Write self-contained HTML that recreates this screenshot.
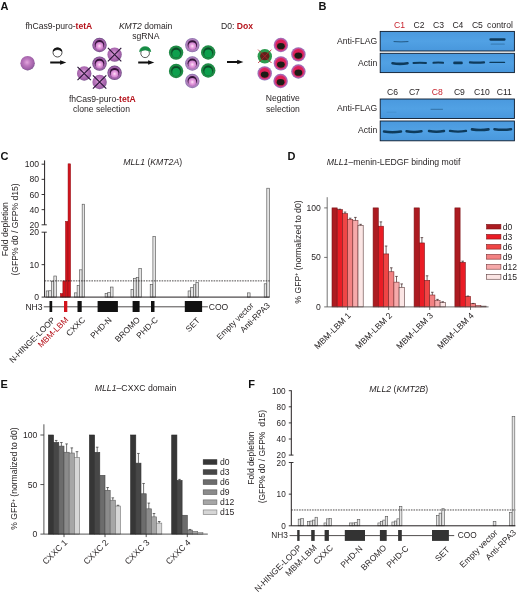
<!DOCTYPE html>
<html lang="en"><head><meta charset="utf-8"><title>Figure</title>
<style>
html,body{margin:0;padding:0;background:#fff;}
svg{display:block;}
text{font-family:"Liberation Sans",sans-serif;}
</style></head><body>
<svg width="520" height="594" viewBox="0 0 520 594">
<defs>
<radialGradient id="gP" cx="0.46" cy="0.44" r="0.58">
 <stop offset="0" stop-color="#e3a6dd"/><stop offset="0.4" stop-color="#bd79bf"/><stop offset="0.78" stop-color="#a262a9"/><stop offset="0.92" stop-color="#8b5a9a"/><stop offset="1" stop-color="#5f4279"/>
</radialGradient>
<radialGradient id="gPi" cx="0.5" cy="0.5" r="0.5">
 <stop offset="0" stop-color="#fde6f8"/><stop offset="0.45" stop-color="#eba4e2"/><stop offset="1" stop-color="#c77ac8"/>
</radialGradient>
<radialGradient id="gPo" cx="0.5" cy="0.5" r="0.5">
 <stop offset="0.55" stop-color="#a466aa"/><stop offset="0.85" stop-color="#9a5fa4"/><stop offset="1" stop-color="#5f4279"/>
</radialGradient>
<radialGradient id="gPo2" cx="0.5" cy="0.5" r="0.5">
 <stop offset="0.55" stop-color="#b284bc"/><stop offset="0.85" stop-color="#ab7eba"/><stop offset="1" stop-color="#7d6aa8"/>
</radialGradient>
<radialGradient id="gG" cx="0.5" cy="0.5" r="0.5">
 <stop offset="0" stop-color="#0aa24e"/><stop offset="0.5" stop-color="#0a9c4a"/><stop offset="0.68" stop-color="#176f38"/><stop offset="0.8" stop-color="#1f8f47"/><stop offset="1" stop-color="#1c8643"/>
</radialGradient>
<radialGradient id="gR" cx="0.5" cy="0.5" r="0.5">
 <stop offset="0" stop-color="#dc1c54"/><stop offset="0.68" stop-color="#dc2259"/><stop offset="0.8" stop-color="#c24c98"/><stop offset="0.92" stop-color="#ac66b2"/><stop offset="1" stop-color="#7f74b4"/>
</radialGradient>
<linearGradient id="gB" x1="0" y1="0" x2="0" y2="1">
 <stop offset="0" stop-color="#4a99de"/><stop offset="0.5" stop-color="#51a1e4"/><stop offset="1" stop-color="#4897dc"/>
</linearGradient>
<filter id="bl" filterUnits="userSpaceOnUse" x="370" y="20" width="150" height="130"><feGaussianBlur stdDeviation="0.6"/></filter>
<filter id="bl3" filterUnits="userSpaceOnUse" x="0" y="20" width="330" height="90"><feGaussianBlur stdDeviation="0.7"/></filter>
<filter id="bl2" filterUnits="userSpaceOnUse" x="0" y="20" width="330" height="90"><feGaussianBlur stdDeviation="0.35"/></filter>
</defs>

<text x="0.4" y="10.2" font-size="11" font-weight="bold" fill="#111">A</text>
<text x="318.6" y="9.8" font-size="11" font-weight="bold" fill="#111">B</text>
<text x="0.6" y="159.9" font-size="11" font-weight="bold" fill="#111">C</text>
<text x="287.4" y="159.9" font-size="11" font-weight="bold" fill="#111">D</text>
<text x="0.6" y="387.8" font-size="11" font-weight="bold" fill="#111">E</text>
<text x="248.3" y="388.1" font-size="11" font-weight="bold" fill="#111">F</text>
<g id="panelA">
<text x="25.4" y="29" font-size="8.6" fill="#231f20">fhCas9-puro-<tspan font-weight="bold" fill="#b5121b">tetA</tspan></text>
<text x="118.9" y="28.7" font-size="8.6" fill="#231f20"><tspan font-style="italic">KMT2</tspan> domain</text>
<text x="145.9" y="39.3" font-size="8.6" text-anchor="middle" fill="#231f20">sgRNA</text>
<text x="221" y="28.7" font-size="8.6" fill="#231f20">D0: <tspan font-weight="bold" fill="#b5121b">Dox</tspan></text>
<text x="68.9" y="101.6" font-size="8.6" fill="#231f20">fhCas9-puro-<tspan font-weight="bold" fill="#b5121b">tetA</tspan></text>
<text x="101.5" y="112.1" font-size="8.6" text-anchor="middle" fill="#231f20">clone selection</text>
<text x="282.8" y="101.4" font-size="8.6" text-anchor="middle" fill="#231f20">Negative</text>
<text x="282.9" y="111.6" font-size="8.6" text-anchor="middle" fill="#231f20">selection</text>
<circle cx="27.6" cy="63.2" r="7.2" fill="url(#gP)"/>
<circle cx="57.5" cy="52.5" r="4.5" fill="#fff" stroke="#222" stroke-width="0.8"/>
<path d="M53.3 50.9A4.5 4.5 0 0 1 61.7 50.9A6 4.2 0 0 0 53.3 50.9Z" fill="#111" stroke="#111" stroke-width="1.1" stroke-linejoin="round"/>
<path d="M50.2 61.4H60.099999999999994V60.2L66.3 62.5L60.099999999999994 64.8V63.6H50.2Z" fill="#111"/>
<circle cx="99.5" cy="45.0" r="7.2" fill="url(#gPo)"/>
<circle cx="99.5" cy="44.8" r="4.7" fill="#35123a" filter="url(#bl2)"/>
<circle cx="99.5" cy="46.0" r="3.9" fill="url(#gPi)" filter="url(#bl2)"/>
<circle cx="114.6" cy="54.6" r="7.2" fill="url(#gP)"/>
<path d="M107.89999999999999 47.9L121.3 61.300000000000004M121.3 47.9L107.89999999999999 61.300000000000004" stroke="#2a1638" stroke-width="1.15" fill="none"/>
<circle cx="99.5" cy="63.6" r="7.2" fill="url(#gPo)"/>
<circle cx="99.5" cy="63.4" r="4.7" fill="#35123a" filter="url(#bl2)"/>
<circle cx="99.5" cy="64.6" r="3.9" fill="url(#gPi)" filter="url(#bl2)"/>
<circle cx="84.2" cy="73.5" r="7.2" fill="url(#gP)"/>
<path d="M77.5 66.8L90.9 80.2M90.9 66.8L77.5 80.2" stroke="#2a1638" stroke-width="1.15" fill="none"/>
<circle cx="114.6" cy="72.8" r="7.2" fill="url(#gPo)"/>
<circle cx="114.6" cy="72.6" r="4.7" fill="#35123a" filter="url(#bl2)"/>
<circle cx="114.6" cy="73.8" r="3.9" fill="url(#gPi)" filter="url(#bl2)"/>
<circle cx="99.6" cy="82.0" r="7.2" fill="url(#gP)"/>
<path d="M92.89999999999999 75.3L106.3 88.7M106.3 75.3L92.89999999999999 88.7" stroke="#2a1638" stroke-width="1.15" fill="none"/>
<circle cx="145.1" cy="53.3" r="4.3" fill="#fff" stroke="#333" stroke-width="0.8"/>
<path d="M139.6 51.6A5.6 5.6 0 0 1 150.7 51.6Q145.1 48.2 139.6 51.6Z" fill="#178c45" stroke="#178c45" stroke-width="0.8"/>
<path d="M138.2 61.4H148.10000000000002V60.2L154.3 62.5L148.10000000000002 64.8V63.6H138.2Z" fill="#111"/>
<circle cx="192.3" cy="45.1" r="7.2" fill="url(#gPo2)"/>
<circle cx="192.3" cy="44.9" r="4.7" fill="#35123a" filter="url(#bl2)"/>
<circle cx="192.3" cy="46.1" r="3.9" fill="url(#gPi)" filter="url(#bl2)"/>
<circle cx="176.1" cy="52.6" r="7.2" fill="url(#gG)"/>
<circle cx="176.1" cy="52.4" r="4.6" fill="#0b4a27" filter="url(#bl2)"/>
<circle cx="176.1" cy="53.6" r="3.9" fill="#0ba04d" filter="url(#bl2)"/>
<circle cx="208.2" cy="52.5" r="7.2" fill="url(#gG)"/>
<circle cx="208.2" cy="52.3" r="4.6" fill="#0b4a27" filter="url(#bl2)"/>
<circle cx="208.2" cy="53.5" r="3.9" fill="#0ba04d" filter="url(#bl2)"/>
<circle cx="192.3" cy="63.5" r="7.2" fill="url(#gPo2)"/>
<circle cx="192.3" cy="63.3" r="4.7" fill="#35123a" filter="url(#bl2)"/>
<circle cx="192.3" cy="64.5" r="3.9" fill="url(#gPi)" filter="url(#bl2)"/>
<circle cx="176.1" cy="71.0" r="7.2" fill="url(#gG)"/>
<circle cx="176.1" cy="70.8" r="4.6" fill="#0b4a27" filter="url(#bl2)"/>
<circle cx="176.1" cy="72.0" r="3.9" fill="#0ba04d" filter="url(#bl2)"/>
<circle cx="208.2" cy="70.5" r="7.2" fill="url(#gG)"/>
<circle cx="208.2" cy="70.3" r="4.6" fill="#0b4a27" filter="url(#bl2)"/>
<circle cx="208.2" cy="71.5" r="3.9" fill="#0ba04d" filter="url(#bl2)"/>
<circle cx="192.3" cy="81.0" r="7.2" fill="url(#gPo2)"/>
<circle cx="192.3" cy="80.8" r="4.7" fill="#35123a" filter="url(#bl2)"/>
<circle cx="192.3" cy="82.0" r="3.9" fill="url(#gPi)" filter="url(#bl2)"/>
<path d="M227.0 60.9H237.20000000000002V59.7L243.4 62.0L237.20000000000002 64.3V63.1H227.0Z" fill="#111"/>
<circle cx="280.9" cy="45.0" r="7.2" fill="url(#gR)"/>
<ellipse cx="280.9" cy="46.2" rx="3.9" ry="3.1" fill="#1d1c14" filter="url(#bl3)"/>
<circle cx="264.8" cy="56.3" r="7.2" fill="#2b9a4e"/>
<ellipse cx="264.8" cy="56.099999999999994" rx="4.8" ry="4.2" fill="#5e241a" filter="url(#bl2)"/>
<path d="M258.1 49.599999999999994L271.5 63.0M271.5 49.599999999999994L258.1 63.0" stroke="#b5202a" stroke-width="0.8" fill="none"/>
<circle cx="298.4" cy="54.4" r="7.2" fill="url(#gR)"/>
<ellipse cx="298.4" cy="55.6" rx="3.9" ry="3.1" fill="#1d1c14" filter="url(#bl3)"/>
<circle cx="280.9" cy="63.4" r="7.2" fill="url(#gR)"/>
<ellipse cx="280.9" cy="64.6" rx="3.9" ry="3.1" fill="#1d1c14" filter="url(#bl3)"/>
<circle cx="264.7" cy="73.4" r="7.2" fill="url(#gR)"/>
<ellipse cx="264.7" cy="74.60000000000001" rx="3.9" ry="3.1" fill="#1d1c14" filter="url(#bl3)"/>
<circle cx="298.4" cy="71.5" r="7.2" fill="url(#gR)"/>
<ellipse cx="298.4" cy="72.7" rx="3.9" ry="3.1" fill="#1d1c14" filter="url(#bl3)"/>
<circle cx="280.6" cy="81.0" r="7.2" fill="url(#gR)"/>
<ellipse cx="280.6" cy="82.2" rx="3.9" ry="3.1" fill="#1d1c14" filter="url(#bl3)"/>
</g>
<g id="panelB">
<rect x="380.2" y="31.4" width="134.2" height="19.6" fill="url(#gB)" stroke="#0c1a2c" stroke-width="0.9"/>
<rect x="380.2" y="53.3" width="134.2" height="19.3" fill="url(#gB)" stroke="#0c1a2c" stroke-width="0.9"/>
<rect x="380.2" y="99.0" width="134.2" height="19.5" fill="url(#gB)" stroke="#0c1a2c" stroke-width="0.9"/>
<rect x="380.2" y="121.0" width="134.2" height="19.8" fill="url(#gB)" stroke="#0c1a2c" stroke-width="0.9"/>
<text x="399.5" y="27.6" font-size="8.6" text-anchor="middle" fill="#c8242f">C1</text>
<text x="419.0" y="27.6" font-size="8.6" text-anchor="middle" fill="#231f20">C2</text>
<text x="438.5" y="27.6" font-size="8.6" text-anchor="middle" fill="#231f20">C3</text>
<text x="457.9" y="27.6" font-size="8.6" text-anchor="middle" fill="#231f20">C4</text>
<text x="477.4" y="27.6" font-size="8.6" text-anchor="middle" fill="#231f20">C5</text>
<text x="500.0" y="27.6" font-size="8.6" text-anchor="middle" fill="#231f20">control</text>
<text x="392.5" y="95.4" font-size="8.6" text-anchor="middle" fill="#231f20">C6</text>
<text x="414.4" y="95.4" font-size="8.6" text-anchor="middle" fill="#231f20">C7</text>
<text x="437.2" y="95.4" font-size="8.6" text-anchor="middle" fill="#c8242f">C8</text>
<text x="459.4" y="95.4" font-size="8.6" text-anchor="middle" fill="#231f20">C9</text>
<text x="482.0" y="95.4" font-size="8.6" text-anchor="middle" fill="#231f20">C10</text>
<text x="504.3" y="95.4" font-size="8.6" text-anchor="middle" fill="#231f20">C11</text>
<text x="377.2" y="44.2" font-size="8.6" text-anchor="end" fill="#231f20">Anti-FLAG</text>
<text x="377.2" y="65.8" font-size="8.6" text-anchor="end" fill="#231f20">Actin</text>
<text x="377.2" y="111.0" font-size="8.6" text-anchor="end" fill="#231f20">Anti-FLAG</text>
<text x="377.2" y="133.2" font-size="8.6" text-anchor="end" fill="#231f20">Actin</text>
<path d="M394 41.6Q401.0 42.2 408 41.6" stroke="#113a5c" stroke-width="1.0" stroke-linecap="round" fill="none" opacity="0.7" filter="url(#bl)"/>
<path d="M490.5 39.5Q497.5 39.5 504.5 39.5" stroke="#113a5c" stroke-width="2.3" stroke-linecap="round" fill="none" opacity="1.0" filter="url(#bl)"/>
<path d="M491.5 44.2Q497.75 44.2 504 44.2" stroke="#113a5c" stroke-width="1.8" stroke-linecap="round" fill="none" opacity="0.22" filter="url(#bl)"/>
<path d="M392.5 63.3Q400.0 64.5 407.5 63.3" stroke="#113a5c" stroke-width="2.6" stroke-linecap="round" fill="none" opacity="1.0" filter="url(#bl)"/>
<path d="M413.5 63.0Q419.75 62.5 426 63.0" stroke="#113a5c" stroke-width="2.0" stroke-linecap="round" fill="none" opacity="1.0" filter="url(#bl)"/>
<path d="M433.5 62.8Q438.25 62.3 443 62.8" stroke="#113a5c" stroke-width="2.1" stroke-linecap="round" fill="none" opacity="1.0" filter="url(#bl)"/>
<path d="M454.5 62.9Q458.0 62.9 461.5 62.9" stroke="#113a5c" stroke-width="2.7" stroke-linecap="round" fill="none" opacity="1.0" filter="url(#bl)"/>
<path d="M470 62.4Q477.0 62.9 484 62.4" stroke="#113a5c" stroke-width="2.3" stroke-linecap="round" fill="none" opacity="1.0" filter="url(#bl)"/>
<path d="M490 62.4Q497.25 62.4 504.5 62.4" stroke="#113a5c" stroke-width="1.4" stroke-linecap="round" fill="none" opacity="1.0" filter="url(#bl)"/>
<path d="M431 109.3Q436.75 109.3 442.5 109.3" stroke="#113a5c" stroke-width="1.0" stroke-linecap="round" fill="none" opacity="0.45" filter="url(#bl)"/>
<path d="M387 112.2Q391.5 112.2 396 112.2" stroke="#113a5c" stroke-width="1.0" stroke-linecap="round" fill="none" opacity="0.12" filter="url(#bl)"/>
<path d="M384 131.5Q392.5 132.9 401 131.5" stroke="#113a5c" stroke-width="2.5" stroke-linecap="round" fill="none" opacity="1.0" filter="url(#bl)"/>
<path d="M406.5 131.3Q414.0 132.70000000000002 421.5 131.3" stroke="#113a5c" stroke-width="2.4" stroke-linecap="round" fill="none" opacity="1.0" filter="url(#bl)"/>
<path d="M429 131.1Q436.5 132.5 444 131.1" stroke="#113a5c" stroke-width="2.5" stroke-linecap="round" fill="none" opacity="1.0" filter="url(#bl)"/>
<path d="M450 130.9Q458.0 132.3 466 130.9" stroke="#113a5c" stroke-width="2.4" stroke-linecap="round" fill="none" opacity="1.0" filter="url(#bl)"/>
<path d="M472 129.4Q480.25 130.6 488.5 129.4" stroke="#113a5c" stroke-width="2.6" stroke-linecap="round" fill="none" opacity="1.0" filter="url(#bl)"/>
<path d="M494.5 129.2Q502.75 130.39999999999998 511 129.2" stroke="#113a5c" stroke-width="2.6" stroke-linecap="round" fill="none" opacity="1.0" filter="url(#bl)"/>
</g>
<g id="panelC">
<text x="152.7" y="164.8" font-size="8.7" text-anchor="middle" fill="#231f20"><tspan font-style="italic">MLL1</tspan> (<tspan font-style="italic">KMT2A</tspan>)</text>
<rect x="46.20" y="290.93" width="2.55" height="6.17" fill="#e4e4e4" stroke="#4d4d4d" stroke-width="0.6"/>
<rect x="48.75" y="290.77" width="2.55" height="6.33" fill="#e4e4e4" stroke="#4d4d4d" stroke-width="0.6"/>
<rect x="51.30" y="281.20" width="2.55" height="15.90" fill="#e4e4e4" stroke="#4d4d4d" stroke-width="0.6"/>
<rect x="53.85" y="276.01" width="2.55" height="21.09" fill="#e4e4e4" stroke="#4d4d4d" stroke-width="0.6"/>
<rect x="60.30" y="293.53" width="2.58" height="3.57" fill="#d2131c" stroke="#8e1116" stroke-width="0.5"/>
<rect x="62.88" y="280.88" width="2.58" height="16.23" fill="#d2131c" stroke="#8e1116" stroke-width="0.5"/>
<rect x="65.46" y="221.32" width="2.58" height="75.78" fill="#d2131c" stroke="#8e1116" stroke-width="0.5"/>
<rect x="68.04" y="163.82" width="2.58" height="133.28" fill="#d2131c" stroke="#8e1116" stroke-width="0.5"/>
<rect x="74.60" y="292.88" width="2.52" height="4.22" fill="#e4e4e4" stroke="#4d4d4d" stroke-width="0.6"/>
<rect x="77.12" y="285.42" width="2.52" height="11.68" fill="#e4e4e4" stroke="#4d4d4d" stroke-width="0.6"/>
<rect x="79.64" y="269.84" width="2.52" height="27.26" fill="#e4e4e4" stroke="#4d4d4d" stroke-width="0.6"/>
<rect x="82.16" y="204.20" width="2.52" height="92.90" fill="#e4e4e4" stroke="#4d4d4d" stroke-width="0.6"/>
<rect x="105.10" y="293.53" width="2.65" height="3.57" fill="#e4e4e4" stroke="#4d4d4d" stroke-width="0.6"/>
<rect x="107.75" y="292.56" width="2.65" height="4.54" fill="#e4e4e4" stroke="#4d4d4d" stroke-width="0.6"/>
<rect x="110.40" y="287.04" width="2.65" height="10.06" fill="#e4e4e4" stroke="#4d4d4d" stroke-width="0.6"/>
<rect x="131.00" y="289.31" width="2.60" height="7.79" fill="#e4e4e4" stroke="#4d4d4d" stroke-width="0.6"/>
<rect x="133.60" y="278.28" width="2.60" height="18.82" fill="#e4e4e4" stroke="#4d4d4d" stroke-width="0.6"/>
<rect x="136.20" y="277.63" width="2.60" height="19.47" fill="#e4e4e4" stroke="#4d4d4d" stroke-width="0.6"/>
<rect x="138.80" y="268.54" width="2.60" height="28.56" fill="#e4e4e4" stroke="#4d4d4d" stroke-width="0.6"/>
<rect x="150.20" y="284.44" width="2.70" height="12.66" fill="#e4e4e4" stroke="#4d4d4d" stroke-width="0.6"/>
<rect x="152.90" y="236.42" width="2.70" height="60.68" fill="#e4e4e4" stroke="#4d4d4d" stroke-width="0.6"/>
<rect x="188.10" y="290.93" width="2.60" height="6.17" fill="#e4e4e4" stroke="#4d4d4d" stroke-width="0.6"/>
<rect x="190.70" y="287.37" width="2.60" height="9.74" fill="#e4e4e4" stroke="#4d4d4d" stroke-width="0.6"/>
<rect x="193.30" y="284.77" width="2.60" height="12.33" fill="#e4e4e4" stroke="#4d4d4d" stroke-width="0.6"/>
<rect x="195.90" y="282.50" width="2.60" height="14.60" fill="#e4e4e4" stroke="#4d4d4d" stroke-width="0.6"/>
<rect x="247.30" y="292.88" width="2.80" height="4.22" fill="#e4e4e4" stroke="#4d4d4d" stroke-width="0.6"/>
<rect x="264.20" y="283.80" width="2.60" height="13.30" fill="#e4e4e4" stroke="#4d4d4d" stroke-width="0.6"/>
<rect x="266.80" y="188.21" width="2.60" height="108.89" fill="#e4e4e4" stroke="#4d4d4d" stroke-width="0.6"/>
<path d="M44.6 280.88H269.6" stroke="#231f20" stroke-width="0.8" stroke-dasharray="1.6 1" fill="none"/>
<path d="M44.6 160.39999999999998V224.8M44.6 232.2V297.1H269.6" stroke="#231f20" stroke-width="1" fill="none"/>
<path d="M41.6 164.20H44.6" stroke="#231f20" stroke-width="0.9"/>
<text x="39.0" y="167.2" font-size="8.6" text-anchor="end" fill="#231f20">100</text>
<path d="M41.6 179.35H44.6" stroke="#231f20" stroke-width="0.9"/>
<text x="39.0" y="182.35" font-size="8.6" text-anchor="end" fill="#231f20">80</text>
<path d="M41.6 194.50H44.6" stroke="#231f20" stroke-width="0.9"/>
<text x="39.0" y="197.5" font-size="8.6" text-anchor="end" fill="#231f20">60</text>
<path d="M41.6 209.65H44.6" stroke="#231f20" stroke-width="0.9"/>
<text x="39.0" y="212.65" font-size="8.6" text-anchor="end" fill="#231f20">40</text>
<path d="M41.6 224.80H46.800000000000004" stroke="#231f20" stroke-width="0.9"/>
<text x="39.0" y="227.8" font-size="8.6" text-anchor="end" fill="#231f20">20</text>
<path d="M41.6 232.20H46.800000000000004" stroke="#231f20" stroke-width="0.9"/>
<text x="39.0" y="235.2" font-size="8.6" text-anchor="end" fill="#231f20">20</text>
<path d="M41.6 264.65H44.6" stroke="#231f20" stroke-width="0.9"/>
<text x="39.0" y="267.65" font-size="8.6" text-anchor="end" fill="#231f20">10</text>
<path d="M41.6 297.10H44.6" stroke="#231f20" stroke-width="0.9"/>
<text x="39.0" y="300.1" font-size="8.6" text-anchor="end" fill="#231f20">0</text>
<text x="42.6" y="309.6" font-size="8.6" text-anchor="end" fill="#231f20">NH3</text>
<path d="M43.8 306.8H207.9" stroke="#231f20" stroke-width="0.8"/>
<rect x="49.5" y="301.0" width="2.70" height="11.00" fill="#111"/>
<rect x="64.0" y="301.0" width="3.30" height="11.00" fill="#d2131c"/>
<rect x="77.5" y="301.0" width="4.20" height="11.00" fill="#111"/>
<rect x="97.6" y="301.0" width="20.30" height="11.00" fill="#111"/>
<rect x="132.6" y="301.0" width="7.00" height="11.00" fill="#111"/>
<rect x="151.0" y="301.0" width="3.50" height="11.00" fill="#111"/>
<rect x="184.8" y="301.0" width="17.30" height="11.00" fill="#111"/>
<text x="208.7" y="309.6" font-size="8.6" fill="#231f20">COO</text>
<text transform="translate(55.7 320.5) rotate(-45)" font-size="8.3" text-anchor="end" fill="#231f20">N-HINGE-LOOP</text>
<text transform="translate(68.9 320.4) rotate(-45)" font-size="8.3" text-anchor="end" fill="#b5121b">MBM-LBM</text>
<text transform="translate(85.7 320.4) rotate(-45)" font-size="8.3" text-anchor="end" fill="#231f20">CXXC</text>
<text transform="translate(112.3 320.4) rotate(-45)" font-size="8.3" text-anchor="end" fill="#231f20">PHD-N</text>
<text transform="translate(140.5 320.4) rotate(-45)" font-size="8.3" text-anchor="end" fill="#231f20">BROMO</text>
<text transform="translate(158.4 320.4) rotate(-45)" font-size="8.3" text-anchor="end" fill="#231f20">PHD-C</text>
<text transform="translate(200.4 321.0) rotate(-45)" font-size="8.3" text-anchor="end" fill="#231f20">SET</text>
<text transform="translate(254.2 306.0) rotate(-45)" font-size="8.3" text-anchor="end" fill="#231f20">Empty vector</text>
<text transform="translate(270.5 306.0) rotate(-45)" font-size="8.3" text-anchor="end" fill="#231f20">Anti-RPA3</text>
<text transform="translate(7.9 229.2) rotate(-90)" font-size="8.6" text-anchor="middle" fill="#231f20">Fold depletion</text>
<text transform="translate(18.0 229.4) rotate(-90)" font-size="8.6" text-anchor="middle" fill="#231f20">(GFP% d0 / GFP% d15)</text>
</g>
<g id="panelF">
<text x="398.8" y="391.8" font-size="8.7" text-anchor="middle" fill="#231f20"><tspan font-style="italic">MLL2</tspan> (<tspan font-style="italic">KMT2B</tspan>)</text>
<rect x="298.20" y="519.15" width="2.60" height="6.65" fill="#e4e4e4" stroke="#555" stroke-width="0.6"/>
<rect x="300.80" y="518.52" width="2.60" height="7.28" fill="#e4e4e4" stroke="#555" stroke-width="0.6"/>
<rect x="307.40" y="521.69" width="2.55" height="4.11" fill="#e4e4e4" stroke="#555" stroke-width="0.6"/>
<rect x="309.95" y="521.05" width="2.55" height="4.75" fill="#e4e4e4" stroke="#555" stroke-width="0.6"/>
<rect x="312.50" y="520.10" width="2.55" height="5.70" fill="#e4e4e4" stroke="#555" stroke-width="0.6"/>
<rect x="315.05" y="517.25" width="2.55" height="8.55" fill="#e4e4e4" stroke="#555" stroke-width="0.6"/>
<rect x="324.00" y="522.95" width="2.55" height="2.85" fill="#e4e4e4" stroke="#555" stroke-width="0.6"/>
<rect x="326.55" y="518.84" width="2.55" height="6.96" fill="#e4e4e4" stroke="#555" stroke-width="0.6"/>
<rect x="329.10" y="518.52" width="2.55" height="7.28" fill="#e4e4e4" stroke="#555" stroke-width="0.6"/>
<rect x="349.60" y="522.95" width="2.55" height="2.85" fill="#e4e4e4" stroke="#555" stroke-width="0.6"/>
<rect x="352.15" y="522.95" width="2.55" height="2.85" fill="#e4e4e4" stroke="#555" stroke-width="0.6"/>
<rect x="354.70" y="522.63" width="2.55" height="3.16" fill="#e4e4e4" stroke="#555" stroke-width="0.6"/>
<rect x="357.25" y="519.47" width="2.55" height="6.33" fill="#e4e4e4" stroke="#555" stroke-width="0.6"/>
<rect x="377.90" y="522.95" width="2.45" height="2.85" fill="#e4e4e4" stroke="#555" stroke-width="0.6"/>
<rect x="380.35" y="521.69" width="2.45" height="4.11" fill="#e4e4e4" stroke="#555" stroke-width="0.6"/>
<rect x="382.80" y="520.10" width="2.45" height="5.70" fill="#e4e4e4" stroke="#555" stroke-width="0.6"/>
<rect x="385.25" y="516.30" width="2.45" height="9.50" fill="#e4e4e4" stroke="#555" stroke-width="0.6"/>
<rect x="391.90" y="522.00" width="2.50" height="3.80" fill="#e4e4e4" stroke="#555" stroke-width="0.6"/>
<rect x="394.40" y="521.05" width="2.50" height="4.75" fill="#e4e4e4" stroke="#555" stroke-width="0.6"/>
<rect x="396.90" y="518.84" width="2.50" height="6.96" fill="#e4e4e4" stroke="#555" stroke-width="0.6"/>
<rect x="399.40" y="506.49" width="2.50" height="19.31" fill="#e4e4e4" stroke="#555" stroke-width="0.6"/>
<rect x="436.40" y="515.36" width="2.70" height="10.44" fill="#e4e4e4" stroke="#555" stroke-width="0.6"/>
<rect x="439.10" y="513.14" width="2.70" height="12.66" fill="#e4e4e4" stroke="#555" stroke-width="0.6"/>
<rect x="441.80" y="508.71" width="2.70" height="17.09" fill="#e4e4e4" stroke="#555" stroke-width="0.6"/>
<rect x="493.20" y="521.37" width="2.70" height="4.43" fill="#e4e4e4" stroke="#555" stroke-width="0.6"/>
<rect x="509.50" y="512.51" width="2.65" height="13.29" fill="#e4e4e4" stroke="#555" stroke-width="0.6"/>
<rect x="512.15" y="416.46" width="2.65" height="109.34" fill="#e4e4e4" stroke="#555" stroke-width="0.6"/>
<path d="M291.3 509.97H515.4" stroke="#231f20" stroke-width="0.8" stroke-dasharray="1.6 1" fill="none"/>
<path d="M291.3 390.3V455.1M291.3 462.5V525.8H515.4" stroke="#231f20" stroke-width="1" fill="none"/>
<path d="M288.8 390.70H291.3" stroke="#231f20" stroke-width="0.9"/>
<text x="285.7" y="393.7" font-size="8.2" text-anchor="end" fill="#231f20">100</text>
<path d="M288.8 406.80H291.3" stroke="#231f20" stroke-width="0.9"/>
<text x="285.7" y="409.8" font-size="8.2" text-anchor="end" fill="#231f20">80</text>
<path d="M288.8 422.90H291.3" stroke="#231f20" stroke-width="0.9"/>
<text x="285.7" y="425.9" font-size="8.2" text-anchor="end" fill="#231f20">60</text>
<path d="M288.8 439.00H291.3" stroke="#231f20" stroke-width="0.9"/>
<text x="285.7" y="442.0" font-size="8.2" text-anchor="end" fill="#231f20">40</text>
<path d="M288.8 455.10H293.5" stroke="#231f20" stroke-width="0.9"/>
<text x="285.7" y="458.1" font-size="8.2" text-anchor="end" fill="#231f20">20</text>
<path d="M288.8 462.50H293.5" stroke="#231f20" stroke-width="0.9"/>
<text x="285.7" y="465.5" font-size="8.2" text-anchor="end" fill="#231f20">20</text>
<path d="M288.8 494.15H291.3" stroke="#231f20" stroke-width="0.9"/>
<text x="285.7" y="497.15" font-size="8.2" text-anchor="end" fill="#231f20">10</text>
<path d="M288.8 525.80H291.3" stroke="#231f20" stroke-width="0.9"/>
<text x="285.7" y="528.8" font-size="8.2" text-anchor="end" fill="#231f20">0</text>
<text x="287.8" y="538.4" font-size="8.3" text-anchor="end" fill="#231f20">NH3</text>
<path d="M289.6 535.6H454.2" stroke="#231f20" stroke-width="0.8"/>
<rect x="297.2" y="530.0" width="2.40" height="10.90" fill="#333"/>
<rect x="311.2" y="530.0" width="3.50" height="10.90" fill="#333"/>
<rect x="324.6" y="530.0" width="4.30" height="10.90" fill="#333"/>
<rect x="344.8" y="530.0" width="20.20" height="10.90" fill="#333"/>
<rect x="379.9" y="530.0" width="6.80" height="10.90" fill="#333"/>
<rect x="398.1" y="530.0" width="3.70" height="10.90" fill="#333"/>
<rect x="432.0" y="530.0" width="16.90" height="10.90" fill="#333"/>
<text x="457.8" y="538.4" font-size="8.3" fill="#231f20">COO</text>
<text transform="translate(302.0 548.3) rotate(-45)" font-size="8.5" text-anchor="end" fill="#231f20">N-HINGE-LOOP</text>
<text transform="translate(317.2 548.3) rotate(-45)" font-size="8.5" text-anchor="end" fill="#231f20">MBM-LBM</text>
<text transform="translate(333.6 548.3) rotate(-45)" font-size="8.5" text-anchor="end" fill="#231f20">CXXC</text>
<text transform="translate(363.0 549.1) rotate(-45)" font-size="8.5" text-anchor="end" fill="#231f20">PHD-N</text>
<text transform="translate(387.0 548.2) rotate(-45)" font-size="8.5" text-anchor="end" fill="#231f20">BROMO</text>
<text transform="translate(409.1 549.1) rotate(-45)" font-size="8.5" text-anchor="end" fill="#231f20">PHD-C</text>
<text transform="translate(450.1 550.4) rotate(-45)" font-size="8.5" text-anchor="end" fill="#231f20">SET</text>
<text transform="translate(498.2 533.2) rotate(-45)" font-size="8.5" text-anchor="end" fill="#231f20">Empty vector</text>
<text transform="translate(516.5 533.2) rotate(-45)" font-size="8.5" text-anchor="end" fill="#231f20">Anti-RPA3</text>
<text transform="translate(253.9 458.1) rotate(-90)" font-size="8.5" text-anchor="middle" fill="#231f20">Fold depletion</text>
<text transform="translate(264.7 456.6) rotate(-90)" font-size="8.5" text-anchor="middle" fill="#231f20">(GFP% d0 / GFP% &#160;d15)</text>
</g>
<g id="panelD">
<rect x="332.00" y="207.90" width="5.20" height="99.00" fill="#ac1b21" stroke="#7a1216" stroke-width="0.6"/>
<rect x="337.20" y="209.68" width="5.20" height="97.22" fill="#ea1c25" stroke="#7d1216" stroke-width="0.6"/>
<path d="M339.80 209.68V209.19M338.50 209.19H341.10" stroke="#3a2020" stroke-width="0.7" fill="none"/>
<rect x="342.40" y="213.64" width="5.20" height="93.26" fill="#ef4545" stroke="#7d1a1c" stroke-width="0.6"/>
<path d="M345.00 213.64V212.06M343.70 212.06H346.30" stroke="#3a2020" stroke-width="0.7" fill="none"/>
<rect x="347.60" y="219.38" width="5.20" height="87.52" fill="#f38283" stroke="#7d2628" stroke-width="0.6"/>
<path d="M350.20 219.38V218.20M348.90 218.20H351.50" stroke="#3a2020" stroke-width="0.7" fill="none"/>
<rect x="352.80" y="220.57" width="5.20" height="86.33" fill="#f6a9aa" stroke="#7a3436" stroke-width="0.6"/>
<path d="M355.40 220.57V217.40M354.10 217.40H356.70" stroke="#3a2020" stroke-width="0.7" fill="none"/>
<rect x="358.00" y="225.32" width="5.20" height="81.58" fill="#fbe5e4" stroke="#5e3c3c" stroke-width="0.6"/>
<path d="M360.60 225.32V224.33M359.30 224.33H361.90" stroke="#3a2020" stroke-width="0.7" fill="none"/>
<rect x="373.10" y="207.90" width="5.20" height="99.00" fill="#ac1b21" stroke="#7a1216" stroke-width="0.6"/>
<rect x="378.30" y="226.21" width="5.20" height="80.69" fill="#ea1c25" stroke="#7d1216" stroke-width="0.6"/>
<path d="M380.90 226.21V221.86M379.60 221.86H382.20" stroke="#3a2020" stroke-width="0.7" fill="none"/>
<rect x="383.50" y="253.94" width="5.20" height="52.96" fill="#ef4545" stroke="#7d1a1c" stroke-width="0.6"/>
<path d="M386.10 253.94V246.02M384.80 246.02H387.40" stroke="#3a2020" stroke-width="0.7" fill="none"/>
<rect x="388.70" y="271.75" width="5.20" height="35.14" fill="#f38283" stroke="#7d2628" stroke-width="0.6"/>
<path d="M391.30 271.75V267.80M390.00 267.80H392.60" stroke="#3a2020" stroke-width="0.7" fill="none"/>
<rect x="393.90" y="282.15" width="5.20" height="24.75" fill="#f6a9aa" stroke="#7a3436" stroke-width="0.6"/>
<path d="M396.50 282.15V276.41M395.20 276.41H397.80" stroke="#3a2020" stroke-width="0.7" fill="none"/>
<rect x="399.10" y="287.30" width="5.20" height="19.60" fill="#fbe5e4" stroke="#5e3c3c" stroke-width="0.6"/>
<path d="M401.70 287.30V283.93M400.40 283.93H403.00" stroke="#3a2020" stroke-width="0.7" fill="none"/>
<rect x="414.10" y="207.90" width="5.20" height="99.00" fill="#ac1b21" stroke="#7a1216" stroke-width="0.6"/>
<rect x="419.30" y="242.95" width="5.20" height="63.95" fill="#ea1c25" stroke="#7d1216" stroke-width="0.6"/>
<path d="M421.90 242.95V237.60M420.60 237.60H423.20" stroke="#3a2020" stroke-width="0.7" fill="none"/>
<rect x="424.50" y="280.37" width="5.20" height="26.53" fill="#ef4545" stroke="#7d1a1c" stroke-width="0.6"/>
<path d="M427.10 280.37V275.81M425.80 275.81H428.40" stroke="#3a2020" stroke-width="0.7" fill="none"/>
<rect x="429.70" y="295.02" width="5.20" height="11.88" fill="#f38283" stroke="#7d2628" stroke-width="0.6"/>
<path d="M432.30 295.02V292.25M431.00 292.25H433.60" stroke="#3a2020" stroke-width="0.7" fill="none"/>
<rect x="434.90" y="300.56" width="5.20" height="6.34" fill="#f6a9aa" stroke="#7a3436" stroke-width="0.6"/>
<path d="M437.50 300.56V299.38M436.20 299.38H438.80" stroke="#3a2020" stroke-width="0.7" fill="none"/>
<rect x="440.10" y="302.54" width="5.20" height="4.36" fill="#fbe5e4" stroke="#5e3c3c" stroke-width="0.6"/>
<path d="M442.70 302.54V301.75M441.40 301.75H444.00" stroke="#3a2020" stroke-width="0.7" fill="none"/>
<rect x="454.90" y="207.90" width="5.20" height="99.00" fill="#ac1b21" stroke="#7a1216" stroke-width="0.6"/>
<rect x="460.10" y="262.35" width="5.20" height="44.55" fill="#ea1c25" stroke="#7d1216" stroke-width="0.6"/>
<path d="M462.70 262.35V261.16M461.40 261.16H464.00" stroke="#3a2020" stroke-width="0.7" fill="none"/>
<rect x="465.30" y="296.41" width="5.20" height="10.49" fill="#ef4545" stroke="#7d1a1c" stroke-width="0.6"/>
<path d="M467.90 296.41V296.01M466.60 296.01H469.20" stroke="#3a2020" stroke-width="0.7" fill="none"/>
<rect x="470.50" y="303.73" width="5.20" height="3.17" fill="#f38283" stroke="#7d2628" stroke-width="0.6"/>
<path d="M473.10 303.73V303.43M471.80 303.43H474.40" stroke="#3a2020" stroke-width="0.7" fill="none"/>
<rect x="475.70" y="305.32" width="5.20" height="1.58" fill="#f6a9aa" stroke="#7a3436" stroke-width="0.6"/>
<rect x="480.90" y="306.11" width="5.20" height="0.79" fill="#fbe5e4" stroke="#5e3c3c" stroke-width="0.6"/>
<path d="M327.2 197.2V306.9H488.6" stroke="#505050" stroke-width="0.8" fill="none"/>
<path d="M324.2 207.90H327.2" stroke="#505050" stroke-width="0.8"/>
<text x="320.9" y="210.9" font-size="8.6" text-anchor="end" fill="#231f20">100</text>
<path d="M324.2 257.40H327.2" stroke="#505050" stroke-width="0.8"/>
<text x="320.9" y="260.4" font-size="8.6" text-anchor="end" fill="#231f20">50</text>
<path d="M324.2 306.90H327.2" stroke="#505050" stroke-width="0.8"/>
<text x="320.9" y="309.9" font-size="8.6" text-anchor="end" fill="#231f20">0</text>
<path d="M347.60 306.9V309.9" stroke="#505050" stroke-width="0.8"/>
<text transform="translate(351.5 316.0) rotate(-45)" font-size="8.6" text-anchor="end" fill="#231f20">MBM-LBM 1</text>
<path d="M388.70 306.9V309.9" stroke="#505050" stroke-width="0.8"/>
<text transform="translate(392.6 316.0) rotate(-45)" font-size="8.6" text-anchor="end" fill="#231f20">MBM-LBM 2</text>
<path d="M429.70 306.9V309.9" stroke="#505050" stroke-width="0.8"/>
<text transform="translate(433.6 316.0) rotate(-45)" font-size="8.6" text-anchor="end" fill="#231f20">MBM-LBM 3</text>
<path d="M470.50 306.9V309.9" stroke="#505050" stroke-width="0.8"/>
<text transform="translate(474.4 316.0) rotate(-45)" font-size="8.6" text-anchor="end" fill="#231f20">MBM-LBM 4</text>
<text x="326.7" y="164.8" font-size="8.7" fill="#231f20"><tspan font-style="italic">MLL1</tspan>–menin-LEDGF binding motif</text>
<text transform="translate(300.7 252.0) rotate(-90)" font-size="8.7" text-anchor="middle" fill="#231f20">% GFP<tspan font-size="5" dy="-2.6">+</tspan><tspan dy="2.6"> (normalized to d0)</tspan></text>
<rect x="486.6" y="224.40" width="14.3" height="4.6" fill="#ac1b21" stroke="#7a1216" stroke-width="0.6"/>
<text x="502.8" y="229.7" font-size="8.6" fill="#231f20">d0</text>
<rect x="486.6" y="234.45" width="14.3" height="4.6" fill="#ea1c25" stroke="#7d1216" stroke-width="0.6"/>
<text x="502.8" y="239.75" font-size="8.6" fill="#231f20">d3</text>
<rect x="486.6" y="244.50" width="14.3" height="4.6" fill="#ef4545" stroke="#7d1a1c" stroke-width="0.6"/>
<text x="502.8" y="249.8" font-size="8.6" fill="#231f20">d6</text>
<rect x="486.6" y="254.55" width="14.3" height="4.6" fill="#f38283" stroke="#7d2628" stroke-width="0.6"/>
<text x="502.8" y="259.85" font-size="8.6" fill="#231f20">d9</text>
<rect x="486.6" y="264.60" width="14.3" height="4.6" fill="#f6a9aa" stroke="#7a3436" stroke-width="0.6"/>
<text x="502.8" y="269.9" font-size="8.6" fill="#231f20">d12</text>
<rect x="486.6" y="274.65" width="14.3" height="4.6" fill="#fbe5e4" stroke="#5e3c3c" stroke-width="0.6"/>
<text x="502.8" y="279.95" font-size="8.6" fill="#231f20">d15</text>
</g>
<g id="panelE">
<rect x="48.40" y="435.00" width="5.20" height="99.10" fill="#363636" stroke="#2a2a2a" stroke-width="0.6"/>
<rect x="53.60" y="442.43" width="5.20" height="91.67" fill="#474747" stroke="#333" stroke-width="0.6"/>
<path d="M56.20 442.43V440.45M54.90 440.45H57.50" stroke="#333" stroke-width="0.7" fill="none"/>
<rect x="58.80" y="446.10" width="5.20" height="88.00" fill="#6c6c6c" stroke="#444" stroke-width="0.6"/>
<path d="M61.40 446.10V442.53M60.10 442.53H62.70" stroke="#333" stroke-width="0.7" fill="none"/>
<rect x="64.00" y="452.24" width="5.20" height="81.86" fill="#8b8b8b" stroke="#555" stroke-width="0.6"/>
<path d="M66.60 452.24V443.92M65.30 443.92H67.90" stroke="#333" stroke-width="0.7" fill="none"/>
<rect x="69.20" y="453.04" width="5.20" height="81.06" fill="#a6a6a6" stroke="#666" stroke-width="0.6"/>
<path d="M71.80 453.04V447.88M70.50 447.88H73.10" stroke="#333" stroke-width="0.7" fill="none"/>
<rect x="74.40" y="457.40" width="5.20" height="76.70" fill="#d6d6d6" stroke="#777" stroke-width="0.6"/>
<path d="M77.00 457.40V451.65M75.70 451.65H78.30" stroke="#333" stroke-width="0.7" fill="none"/>
<rect x="89.40" y="435.00" width="5.20" height="99.10" fill="#363636" stroke="#2a2a2a" stroke-width="0.6"/>
<rect x="94.60" y="452.34" width="5.20" height="81.76" fill="#474747" stroke="#333" stroke-width="0.6"/>
<path d="M97.20 452.34V447.19M95.90 447.19H98.50" stroke="#333" stroke-width="0.7" fill="none"/>
<rect x="99.80" y="475.33" width="5.20" height="58.77" fill="#6c6c6c" stroke="#444" stroke-width="0.6"/>
<rect x="105.00" y="490.30" width="5.20" height="43.80" fill="#8b8b8b" stroke="#555" stroke-width="0.6"/>
<path d="M107.60 490.30V487.52M106.30 487.52H108.90" stroke="#333" stroke-width="0.7" fill="none"/>
<rect x="110.20" y="500.21" width="5.20" height="33.89" fill="#a6a6a6" stroke="#666" stroke-width="0.6"/>
<path d="M112.80 500.21V497.83M111.50 497.83H114.10" stroke="#333" stroke-width="0.7" fill="none"/>
<rect x="115.40" y="506.05" width="5.20" height="28.05" fill="#d6d6d6" stroke="#777" stroke-width="0.6"/>
<path d="M118.00 506.05V505.26M116.70 505.26H119.30" stroke="#333" stroke-width="0.7" fill="none"/>
<rect x="130.60" y="435.00" width="5.20" height="99.10" fill="#363636" stroke="#2a2a2a" stroke-width="0.6"/>
<rect x="135.80" y="463.14" width="5.20" height="70.96" fill="#474747" stroke="#333" stroke-width="0.6"/>
<path d="M138.40 463.14V453.43M137.10 453.43H139.70" stroke="#333" stroke-width="0.7" fill="none"/>
<rect x="141.00" y="493.77" width="5.20" height="40.33" fill="#6c6c6c" stroke="#444" stroke-width="0.6"/>
<path d="M143.60 493.77V483.46M142.30 483.46H144.90" stroke="#333" stroke-width="0.7" fill="none"/>
<rect x="146.20" y="508.83" width="5.20" height="25.27" fill="#8b8b8b" stroke="#555" stroke-width="0.6"/>
<path d="M148.80 508.83V503.08M147.50 503.08H150.10" stroke="#333" stroke-width="0.7" fill="none"/>
<rect x="151.40" y="516.86" width="5.20" height="17.24" fill="#a6a6a6" stroke="#666" stroke-width="0.6"/>
<path d="M154.00 516.86V513.49M152.70 513.49H155.30" stroke="#333" stroke-width="0.7" fill="none"/>
<rect x="156.60" y="523.10" width="5.20" height="11.00" fill="#d6d6d6" stroke="#777" stroke-width="0.6"/>
<path d="M159.20 523.10V521.51M157.90 521.51H160.50" stroke="#333" stroke-width="0.7" fill="none"/>
<rect x="171.70" y="435.00" width="5.20" height="99.10" fill="#363636" stroke="#2a2a2a" stroke-width="0.6"/>
<rect x="176.90" y="480.39" width="5.20" height="53.71" fill="#474747" stroke="#333" stroke-width="0.6"/>
<path d="M179.50 480.39V479.40M178.20 479.40H180.80" stroke="#333" stroke-width="0.7" fill="none"/>
<rect x="182.10" y="515.27" width="5.20" height="18.83" fill="#6c6c6c" stroke="#444" stroke-width="0.6"/>
<rect x="187.30" y="530.04" width="5.20" height="4.06" fill="#8b8b8b" stroke="#555" stroke-width="0.6"/>
<path d="M189.90 530.04V529.44M188.60 529.44H191.20" stroke="#333" stroke-width="0.7" fill="none"/>
<rect x="192.50" y="531.42" width="5.20" height="2.68" fill="#a6a6a6" stroke="#666" stroke-width="0.6"/>
<rect x="197.70" y="532.51" width="5.20" height="1.59" fill="#d6d6d6" stroke="#777" stroke-width="0.6"/>
<path d="M43.9 424.3V534.1H207.8" stroke="#2b2b2b" stroke-width="0.8" fill="none"/>
<path d="M40.4 435.00H43.9" stroke="#2b2b2b" stroke-width="0.8"/>
<text x="37.3" y="438.0" font-size="8.6" text-anchor="end" fill="#231f20">100</text>
<path d="M40.4 484.55H43.9" stroke="#2b2b2b" stroke-width="0.8"/>
<text x="37.3" y="487.55" font-size="8.6" text-anchor="end" fill="#231f20">50</text>
<path d="M40.4 534.10H43.9" stroke="#2b2b2b" stroke-width="0.8"/>
<text x="37.3" y="537.1" font-size="8.6" text-anchor="end" fill="#231f20">0</text>
<path d="M64.00 534.1V537.1" stroke="#2b2b2b" stroke-width="0.8"/>
<text transform="translate(67.9 543.1) rotate(-45)" font-size="8.6" text-anchor="end" fill="#231f20">CXXC 1</text>
<path d="M105.00 534.1V537.1" stroke="#2b2b2b" stroke-width="0.8"/>
<text transform="translate(108.9 543.1) rotate(-45)" font-size="8.6" text-anchor="end" fill="#231f20">CXXC 2</text>
<path d="M146.20 534.1V537.1" stroke="#2b2b2b" stroke-width="0.8"/>
<text transform="translate(150.1 543.1) rotate(-45)" font-size="8.6" text-anchor="end" fill="#231f20">CXXC 3</text>
<path d="M187.30 534.1V537.1" stroke="#2b2b2b" stroke-width="0.8"/>
<text transform="translate(191.2 543.1) rotate(-45)" font-size="8.6" text-anchor="end" fill="#231f20">CXXC 4</text>
<text x="94.8" y="390.7" font-size="8.7" fill="#231f20"><tspan font-style="italic">MLL1</tspan>–CXXC domain</text>
<text transform="translate(17.4 478.6) rotate(-90)" font-size="8.6" text-anchor="middle" fill="#231f20">% GFP<tspan font-size="5" dy="-2.6">+</tspan><tspan dy="2.6"> (normalized to d0)</tspan></text>
<rect x="203.2" y="459.70" width="13.7" height="4.6" fill="#363636" stroke="#2a2a2a" stroke-width="0.6"/>
<text x="219.9" y="465.0" font-size="8.6" fill="#231f20">d0</text>
<rect x="203.2" y="469.75" width="13.7" height="4.6" fill="#474747" stroke="#333" stroke-width="0.6"/>
<text x="219.9" y="475.05" font-size="8.6" fill="#231f20">d3</text>
<rect x="203.2" y="479.80" width="13.7" height="4.6" fill="#6c6c6c" stroke="#444" stroke-width="0.6"/>
<text x="219.9" y="485.1" font-size="8.6" fill="#231f20">d6</text>
<rect x="203.2" y="489.85" width="13.7" height="4.6" fill="#8b8b8b" stroke="#555" stroke-width="0.6"/>
<text x="219.9" y="495.15" font-size="8.6" fill="#231f20">d9</text>
<rect x="203.2" y="499.90" width="13.7" height="4.6" fill="#a6a6a6" stroke="#666" stroke-width="0.6"/>
<text x="219.9" y="505.2" font-size="8.6" fill="#231f20">d12</text>
<rect x="203.2" y="509.95" width="13.7" height="4.6" fill="#d6d6d6" stroke="#777" stroke-width="0.6"/>
<text x="219.9" y="515.25" font-size="8.6" fill="#231f20">d15</text>
</g>
</svg>
</body></html>
